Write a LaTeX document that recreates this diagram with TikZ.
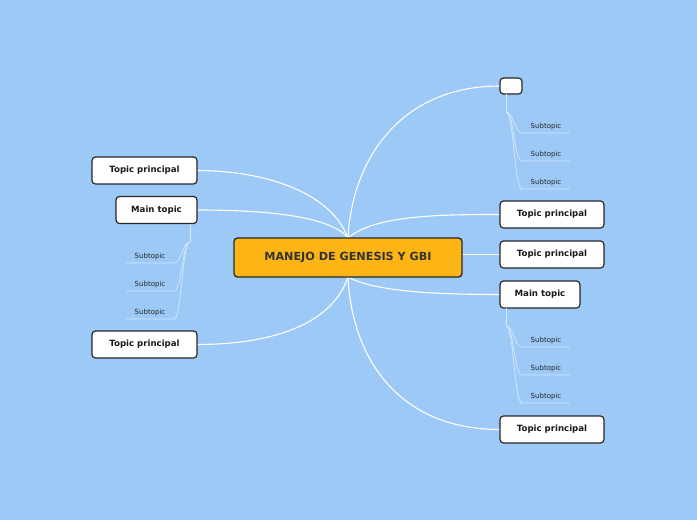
\documentclass[tikz,border=0pt]{standalone}
\usepackage{fontspec}
\setmainfont{DejaVu Sans}
\usetikzlibrary{calc}
\definecolor{bg}{HTML}{9CC9F5}
\definecolor{cen}{HTML}{FDB515}
\definecolor{sub}{HTML}{D6E9FB}
\begin{document}
\begin{tikzpicture}[x=1pt,y=-1pt,
  topic/.style={draw=black!85,line width=1.2pt,fill=white,rounded corners=3.5pt,font=\bfseries\fontsize{8.6}{10}\selectfont,text=black!90,minimum height=27pt,inner xsep=0pt},
  link/.style={draw=white,line width=1.1pt},
  slink/.style={draw=sub,line width=0.7pt},
  stxt/.style={font=\fontsize{7}{8}\selectfont,text=black!85}]
\fill[bg] (0,0) rectangle (697,520);
\useasboundingbox (0,0) rectangle (697,520);
\coordinate (ct) at (348,238);
\coordinate (cb) at (348,277);
\coordinate (cr) at (462,254.5);
\coordinate (er) at (500,86);
\draw[link] (ct) .. controls (352,160) and (400,86) .. (er);
\draw[link] (ct) .. controls (375,215) and (440,214.5) .. (500,214.5) coordinate (r1w);
\draw[link] (cr) -- (500,254.5);
\draw[link] (cb) .. controls (375,292) and (440,294.5) .. (500,294.5);
\draw[link] (cb) .. controls (352,360) and (400,429.5) .. (500,429.5);
\draw[link] (ct) .. controls (330,190) and (260,170.5) .. (197,170.5);
\draw[link] (ct) .. controls (330,215) and (260,210) .. (197,210);
\draw[link] (cb) .. controls (330,330) and (260,344.5) .. (197,344.5);
\node[draw=black!85,line width=1.3pt,fill=cen,rounded corners=3.5pt,minimum width=228pt,minimum height=39pt,font=\bfseries\fontsize{11.2}{13}\selectfont,text=black!80] (c) at (348,257.5) {MANEJO DE GENESIS Y GBI};
\node[topic,minimum width=22pt,minimum height=16pt] (e) at (511,86) {};
\node[topic,minimum width=104pt] (r1) at (552,214.5) {Topic principal};
\node[topic,minimum width=104pt] (r2) at (552,254.5) {Topic principal};
\node[topic,minimum width=80pt] (rm) at (540,294.5) {Main topic};
\node[topic,minimum width=104pt] (r3) at (552,429.5) {Topic principal};
\node[topic,minimum width=105pt] (l1) at (144.5,170.5) {Topic principal};
\node[topic,minimum width=81pt] (lm) at (156.5,210) {Main topic};
\node[topic,minimum width=105pt] (l3) at (144.5,344.5) {Topic principal};
% subtopics
\foreach \n/\x/\y/\d in {e/506/94/1,rm/506/308/1,lm/190/224/-1}{
  \coordinate (\n j) at (\x,\y+18);
  \draw[slink] (\x,\y) -- (\n j);
  \foreach \k in {1,2,3}{
    \pgfmathsetmacro\yy{\y+18+28*\k-7}
    \coordinate (\n s\k) at (\x+16*\d,\yy);
    \coordinate (\n t\k) at (\x+64*\d,\yy);
    \draw[slink] (\n j) .. controls (\x+8*\d,\y+18) and (\x+8*\d,\yy) .. (\n s\k) -- (\n t\k);
    \node[stxt,above] (\n l\k) at ($(\n s\k)!0.5!(\n t\k)$) {Subtopic};
  }
}
\end{tikzpicture}
\end{document}
